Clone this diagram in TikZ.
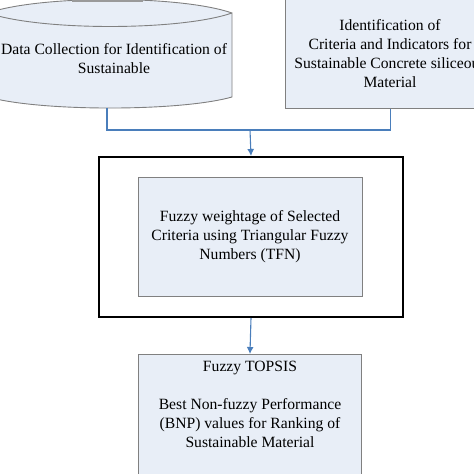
\documentclass[tikz,border=0pt]{standalone}
\usepackage{fontspec}
\setmainfont{Liberation Serif}
\usetikzlibrary{arrows.meta}
\definecolor{boxfill}{HTML}{E8EEF7}
\definecolor{boxline}{HTML}{808080}
\definecolor{conn}{HTML}{4A7EBB}
\tikzset{
  lbl/.style={font=\fontsize{15.7}{19}\selectfont, align=center, inner sep=0pt},
  bluebox/.style={draw=boxline, fill=boxfill, line width=0.9bp, inner sep=0pt, anchor=north west},
  conline/.style={draw=conn, line width=1.1bp},
  conarrow/.style={conline, -{Latex[length=7bp,width=7bp]}},
}
\begin{document}
\begin{tikzpicture}[x=1bp,y=-1bp]
\useasboundingbox (0,0) rectangle (474,474);
\clip (0,0) rectangle (474,474);
% cylinder (drawn directly)
\path[fill=boxfill] (232,13) .. controls (180,-5) and (40,-5) .. (-12,13)
   -- (-12,97) .. controls (40,111.7) and (180,111.7) .. (232,97) -- cycle;
\draw[boxline, line width=0.9bp] (232,13) .. controls (180,-5) and (40,-5) .. (-12,13)
   .. controls (40,31) and (180,31) .. (232,13) -- (232,97)
   .. controls (180,111.7) and (40,111.7) .. (-12,97) -- (-12,13);
\draw[boxline!80, line width=2.5bp] (72,0.3) -- (143,0.3);
\node[lbl] (datatext) at (114,58.5) {Data Collection for Identification of\\Sustainable};
\coordinate (cylbot) at (107,108);
% right box
\node[bluebox, minimum width=210bp, minimum height=110bp] (idbox) at (285,-2) {};
\node[lbl] (idtext) at (390,53.5) {Identification of\\Criteria and Indicators for\\Sustainable Concrete siliceous\\Material};
% outer black box
\node[draw=black, line width=2bp, minimum width=304bp, minimum height=160bp, inner sep=0pt, anchor=north west] (outer) at (98,156) {};
\node[bluebox, minimum width=224bp, minimum height=119bp] (inner) at (138,177) {};
\node[lbl] (innertext) at (250,237) {Fuzzy weightage of Selected\\Criteria using Triangular Fuzzy\\Numbers (TFN)};
% bottom box
\node[bluebox, minimum width=223bp, minimum height=130bp] (topsis) at (138,354) {};
\node[lbl] (topsistext) at (250,404.5) {Fuzzy TOPSIS\\[19bp]Best Non-fuzzy Performance\\(BNP) values for Ranking of\\Sustainable Material};
% connectors
\coordinate (junc) at (250,130);
\draw[conline] (cylbot) |- (junc) -| (idbox.south);
\draw[conarrow] (junc) -- (outer.north);
\draw[conarrow] (outer.south) -- (topsis.north);
\end{tikzpicture}
\end{document}
